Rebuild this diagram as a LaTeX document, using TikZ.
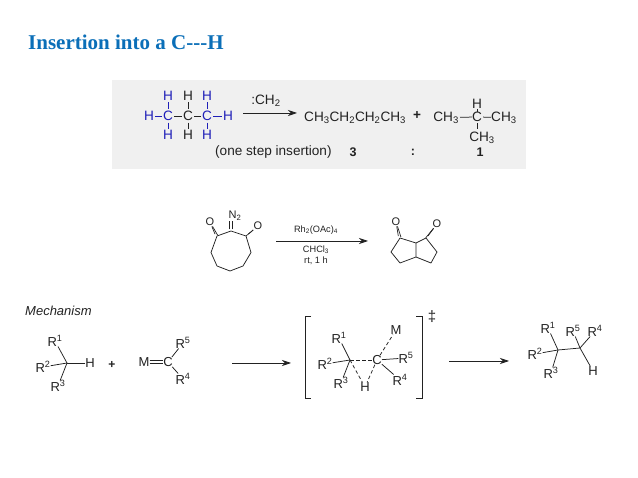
\documentclass[tikz,border=0pt]{standalone}
\usepackage{fontspec}
\setmainfont{Liberation Sans}
\newfontfamily\titlefont{Liberation Serif}
\usetikzlibrary{arrows.meta}
\definecolor{ink}{HTML}{222222}
\definecolor{blu}{HTML}{1F1FB8}
\definecolor{ttl}{HTML}{0B6FB8}
\definecolor{panel}{HTML}{F0F0F0}
\newcommand\sbs[1]{\textsubscript{#1}}
\newcommand\sps[1]{\textsuperscript{#1}}
\tikzset{
 x=1pt,y=-1pt,
 atom/.style={inner sep=0pt,font=\fontsize{13.6}{14}\selectfont,text=ink},
 batom/.style={atom,text=blu},
 matom/.style={inner sep=0pt,font=\fontsize{13}{13}\selectfont,text=ink},
 tiny/.style={inner sep=0.5pt,font=\fontsize{9.2}{10}\selectfont,text=ink},
 tinyb/.style={inner sep=0.3pt,font=\fontsize{11}{11}\selectfont,text=ink},
 bond/.style={draw=ink,line width=0.75pt},
 bbond/.style={draw=blu,line width=0.75pt},
 rxn/.style={draw=ink,line width=0.75pt,-{Stealth[length=9pt,width=6pt]}},
 brk/.style={draw=ink,line width=0.8pt},
 dbond/.style={draw=ink,line width=0.75pt,dash pattern=on 3.5pt off 2.5pt},
 dblend/.style={draw=ink,line width=0.7pt,shorten <=1.5pt},
}
\begin{document}
\begin{tikzpicture}
\useasboundingbox (0,0) rectangle (638,478);
\fill[white] (0,0) rectangle (638,478);
\node[anchor=base west,inner sep=0pt,text=ttl,font=\titlefont\bfseries\fontsize{21}{22}\selectfont] (title) at (28,50) {Insertion into a C---H};
\node[fill=panel,minimum width=414pt,minimum height=89pt,inner sep=0pt] (panelbox) at (319,124.5) {};
% propane
\node[batom] (ha1) at (168,96) {H};
\node[atom] (ha2) at (188,96) {H};
\node[batom] (ha3) at (207,96) {H};
\node[batom] (hl) at (149,116) {H};
\node[batom] (c1) at (168,116) {C};
\node[atom] (c2) at (188,116) {C};
\node[batom] (c3) at (207,116) {C};
\node[batom] (hr) at (228,116) {H};
\node[batom] (hb1) at (168,135) {H};
\node[atom] (hb2) at (188,135) {H};
\node[batom] (hb3) at (207,135) {H};
\draw[bbond,shorten >=1.5pt,shorten <=1.5pt] (ha1)--(c1); \draw[bbond,shorten >=1.5pt,shorten <=1.5pt] (c1)--(hb1); \draw[bbond,shorten >=1pt,shorten <=1pt] (hl)--(c1);
\draw[bond,shorten >=1.5pt,shorten <=1.5pt] (ha2)--(c2); \draw[bond,shorten >=1.5pt,shorten <=1.5pt] (c2)--(hb2);
\draw[bond,shorten >=1pt,shorten <=1pt] (c1)--(c2); \draw[bond,shorten >=1pt,shorten <=1pt] (c2)--(c3);
\draw[bbond,shorten >=1.5pt,shorten <=1.5pt] (ha3)--(c3); \draw[bbond,shorten >=1.5pt,shorten <=1.5pt] (c3)--(hb3); \draw[bbond,shorten >=1pt,shorten <=1pt] (c3)--(hr);
\coordinate (a1s) at (243,113); \coordinate (a1e) at (297,113);
\draw[rxn] (a1s)--(a1e);
\node[atom] (carb) at (266,101) {:CH\sbs{2}};
\node[atom,anchor=west] (butane) at (304,117.5) {CH\sbs{3}CH\sbs{2}CH\sbs{2}CH\sbs{3}};
\node[atom] (plus1) at (417,116) {\textbf{+}};
\node[atom,anchor=east] (me1) at (459,117.5) {CH\sbs{3}};
\node[atom] (cq) at (477,117) {C};
\node[atom,anchor=west] (me2) at (491,117.5) {CH\sbs{3}};
\node[atom] (hq) at (477,104) {H};
\node[atom] (me3) at (482,137.5) {CH\sbs{3}};
\draw[bond,shorten <=1pt] (me1)--(cq); \draw[bond,shorten <=1pt] (cq)--(me2);
\draw[bond] (hq)--(cq);
\coordinate (cqdown) at (477,129);
\draw[bond,shorten <=1pt] (cq)--(cqdown);
\node[atom,anchor=west] (ose) at (215,152) {(one step insertion)};
\node[atom,font=\bfseries\fontsize{12.5}{13}\selectfont] (r3) at (353,152.5) {3};
\node[atom,font=\bfseries\fontsize{12.5}{13}\selectfont] (rc) at (413,152.5) {:};
\node[atom,font=\bfseries\fontsize{12.5}{13}\selectfont] (r1) at (480,152.5) {1};
% diazo ketone
\node[tinyb] (n2) at (235,216) {N\sbs{2}};
\node[tinyb] (ol) at (210,222) {O};
\node[tinyb] (or) at (258,226) {O};
\coordinate (k1) at (217,236); \coordinate (k2) at (231,231); \coordinate (k3) at (246,236);
\coordinate (k4) at (251,252.5); \coordinate (k5) at (243,266); \coordinate (k6) at (230,271);
\coordinate (k7) at (217,266); \coordinate (k8) at (211,252.5);
\coordinate (kn) at (231,221);
\draw[bond,line join=round] (k1)--(k2)--(k3)--(k4)--(k5)--(k6)--(k7)--(k8)--cycle;
\draw[dblend] ([xshift=-1.2pt]k2)--([xshift=-1.2pt]kn);
\draw[dblend] ([xshift=1.2pt]k2)--([xshift=1.2pt]kn);
\draw[dblend] ([xshift=-1.4pt,yshift=.5pt]k1)--([xshift=-1.4pt,yshift=.5pt]ol);
\draw[dblend] ([xshift=1.4pt,yshift=-.5pt]k1)--([xshift=1.4pt,yshift=-.5pt]ol);
\draw[dblend] ([xshift=-1.2pt,yshift=-1pt]k3)--([xshift=-1.2pt,yshift=-1pt]or);
\draw[dblend] ([xshift=1.2pt,yshift=1pt]k3)--([xshift=1.2pt,yshift=1pt]or);
\coordinate (a2s) at (276,241); \coordinate (a2e) at (368,241);
\draw[rxn] (a2s)--(a2e);
\node[tiny] (rh) at (316,230) {Rh\sbs{2}(OAc)\sbs{4}};
\node[tiny] (chcl) at (316,250) {CHCl\sbs{3}};
\node[tiny] (rt) at (316,261) {rt, 1 h};
% bicyclic product
\node[tinyb] (pol) at (396,222) {O};
\node[tinyb] (por) at (437,224) {O};
\coordinate (p1) at (400,238); \coordinate (p2) at (416,243); \coordinate (p3) at (426,238);
\coordinate (p4) at (437,252); \coordinate (p5) at (431,263); \coordinate (p6) at (416,257);
\coordinate (p7) at (400,263); \coordinate (p8) at (391,252);
\draw[bond,line join=round] (p2)--(p1)--(p8)--(p7)--(p6)--(p5)--(p4)--(p3)--(p2)--(p6);
\draw[dblend] ([xshift=-1.4pt,yshift=.4pt]p1)--([xshift=-1.4pt,yshift=.4pt]pol);
\draw[dblend] ([xshift=1.4pt,yshift=-.4pt]p1)--([xshift=1.4pt,yshift=-.4pt]pol);
\draw[dblend] ([xshift=-1.2pt,yshift=-1pt]p3)--([xshift=-1.2pt,yshift=-1pt]por);
\draw[dblend] ([xshift=1.2pt,yshift=1pt]p3)--([xshift=1.2pt,yshift=1pt]por);
% mechanism
\node[anchor=west,inner sep=0pt,text=ink,font=\itshape\fontsize{13}{13}\selectfont] (mech) at (25,311) {Mechanism};
\coordinate (cs) at (67,363);
\node[matom] (s1) at (55,341) {R\sps{1}};
\node[matom] (s2) at (43,367) {R\sps{2}};
\node[matom] (s3) at (58,386) {R\sps{3}};
\node[matom] (sh) at (90,363) {H};
\draw[bond] (s1)--(cs); \draw[bond] (s2)--(cs); \draw[bond] (s3)--(cs); \draw[bond] (sh)--(cs);
\node[matom,font=\bfseries\fontsize{12}{12}\selectfont] (plus2) at (112,365) {+};
\node[matom] (m1) at (144,362) {M};
\node[matom] (c5) at (168,362) {C};
\node[matom] (r5a) at (183,343) {R\sps{5}};
\node[matom] (r4a) at (183,379) {R\sps{4}};
\draw[bond] ([yshift=-1.3pt]m1.east)--([yshift=-1.3pt]c5.west);
\draw[bond] ([yshift=1.3pt]m1.east)--([yshift=1.3pt]c5.west);
\draw[bond] (c5)--(r5a); \draw[bond] (c5)--(r4a);
\coordinate (a3s) at (232,363); \coordinate (a3e) at (291,363);
\draw[rxn] (a3s)--(a3e);
% transition state
\draw[brk] (311,316)--(305,316)--(305,398)--(311,398);
\draw[brk] (416,316)--(422,316)--(422,398)--(416,398);
\node[matom,font=\fontsize{15}{15}\selectfont] (dag) at (432,317) {‡};
\coordinate (ts) at (350,360);
\node[matom] (t1) at (339,338) {R\sps{1}};
\node[matom] (t2) at (325,364) {R\sps{2}};
\node[matom] (t3) at (341,383) {R\sps{3}};
\node[matom] (th) at (365,387) {H};
\node[matom] (tc) at (377,360) {C};
\node[matom] (tm) at (396,330) {M};
\node[matom] (t5) at (406,358) {R\sps{5}};
\node[matom] (t4) at (400,380) {R\sps{4}};
\draw[bond] (t1)--(ts); \draw[bond] (t2)--(ts); \draw[bond] (t3)--(ts);
\draw[dbond] (ts)--(tc); \draw[dbond] (ts)--(th); \draw[dbond] (tc)--(tm); \draw[dbond] (tc)--(th);
\draw[bond] (tc)--(t5); \draw[bond] (tc)--(t4);
\coordinate (a4s) at (449,361); \coordinate (a4e) at (509,361);
\draw[rxn] (a4s)--(a4e);
% final product
\coordinate (f1) at (558,350); \coordinate (f2) at (580,348);
\node[matom] (e1) at (548,328) {R\sps{1}};
\node[matom] (e2) at (535,354) {R\sps{2}};
\node[matom] (e3) at (551,373) {R\sps{3}};
\node[matom] (e5) at (573,331) {R\sps{5}};
\node[matom] (e4) at (595,331) {R\sps{4}};
\node[matom] (eh) at (593,371) {H};
\draw[bond] (e1)--(f1); \draw[bond] (e2)--(f1); \draw[bond] (e3)--(f1);
\draw[bond] (f1)--(f2); \draw[bond] (e5)--(f2); \draw[bond] (e4)--(f2); \draw[bond] (eh)--(f2);
\end{tikzpicture}
\end{document}
